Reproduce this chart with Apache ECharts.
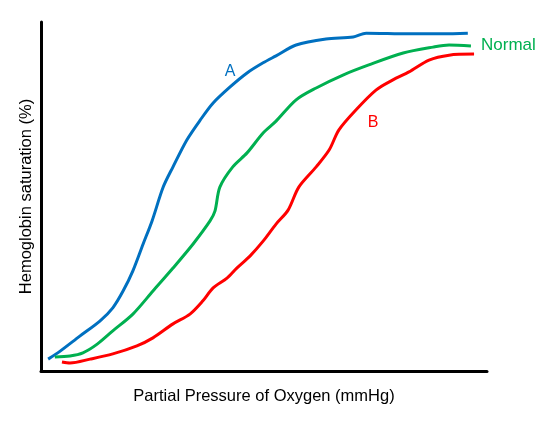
<!DOCTYPE html>
<html>
<head>
<meta charset="utf-8">
<script src="https://cdn.jsdelivr.net/npm/echarts@6/dist/echarts.min.js"></script>
<style>
  html, body { margin: 0; padding: 0; background: #fff; }
  #main { width: 552px; height: 422px; }
</style>
</head>
<body>
<div id="main"></div>
<script>
// curve A (left shifted)
const curveA = [
    [1.6, 3.4], [4.3, 5.7], [8.7, 10.0], [13.2, 14.3], [16.1, 18.1], [18.4, 22.9],
    [20.6, 28.7], [22.9, 36.4], [24.9, 43.0], [27.4, 52.7], [29.6, 58.5], [32.7, 66.2],
    [35.7, 71.9], [38.6, 76.8], [42.4, 81.4], [46.2, 85.4], [49.8, 88.3], [52.7, 90.3],
    [57.2, 93.4], [63.9, 95.1], [70.0, 95.7], [72.9, 96.8], [82.5, 96.6], [90.1, 96.6],
    [95.7, 96.8]
];
// normal curve
const curveNormal = [
    [3.1, 4.0], [6.5, 4.3], [9.4, 5.2], [12.6, 7.7], [16.1, 11.5], [20.6, 16.3],
    [25.1, 22.9], [29.6, 29.5], [34.1, 36.4], [37.9, 43.0], [39.0, 45.8], [40.1, 52.7],
    [43.0, 58.5], [46.2, 62.5], [49.8, 68.2], [52.7, 71.6], [57.2, 77.7], [61.7, 81.1],
    [67.7, 84.8], [73.5, 87.7], [81.2, 91.1], [87.9, 92.8], [91.5, 93.4], [96.4, 93.1]
];
// curve B (right shifted)
const curveB = [
    [4.7, 2.6], [6.5, 2.3], [11.0, 3.4], [16.1, 4.9], [21.5, 7.2], [25.1, 9.5],
    [29.6, 13.5], [33.4, 16.3], [36.3, 20.1], [38.6, 23.8], [41.7, 26.6], [43.9, 29.5],
    [46.9, 33.0], [49.8, 37.2], [52.7, 42.1], [55.4, 46.1], [57.8, 52.7], [61.7, 58.5],
    [64.6, 63.3], [66.8, 69.1], [70.6, 74.8], [75.1, 80.5], [78.9, 83.4], [82.5, 85.7],
    [87.0, 89.1], [91.5, 90.5], [97.1, 90.8]
];

const xTitle = 'Partial Pressure of Oxygen (mmHg)';
const yTitle = 'Hemoglobin saturation (%)';

const font = '"Liberation Sans", Arial, sans-serif';
const blue = '#0070C0', green = '#00B050', red = '#FF0000';

let myChart = echarts.init(document.getElementById('main'));

function line(name, data, color) {
    return {
        name: name,
        type: 'line',
        data: data,
        showSymbol: false,
        smooth: 0.3,
        lineStyle: { color: color, width: 3 },
        itemStyle: { color: color },
        silent: true
    };
}

function label(text, x, y, color, size, align) {
    return {
        type: 'text', x: x, y: y,
        style: {
            text: text, fill: color, font: size + 'px ' + font,
            textAlign: align || 'center', textVerticalAlign: 'middle'
        }
    };
}

let option = {
    animation: false,
    grid: { left: 41, right: 65, top: 22, bottom: 51 },
    xAxis: {
        type: 'value', min: 0, max: 100,
        name: xTitle, nameLocation: 'middle', nameGap: 17,
        nameTextStyle: { color: '#000', fontSize: 16.5, fontFamily: font },
        axisLine: { show: true, lineStyle: { color: '#000', width: 3 } },
        axisTick: { show: false }, axisLabel: { show: false }, splitLine: { show: false }
    },
    yAxis: {
        type: 'value', min: 0, max: 100,
        name: yTitle, nameLocation: 'middle', nameGap: 6,
        nameTextStyle: { color: '#000', fontSize: 16.5, fontFamily: font },
        axisLine: { show: true, lineStyle: { color: '#000', width: 3 } },
        axisTick: { show: false }, axisLabel: { show: false }, splitLine: { show: false }
    },
    graphic: [
        label('A', 230, 72, blue, 16),
        label('Normal', 481, 45, green, 17, 'left'),
        label('B', 373, 123, red, 16)
    ],
    series: [
        line('A', curveA, blue),
        line('Normal', curveNormal, green),
        line('B', curveB, red)
    ]
};
myChart.setOption(option);
</script>
</body>
</html>
